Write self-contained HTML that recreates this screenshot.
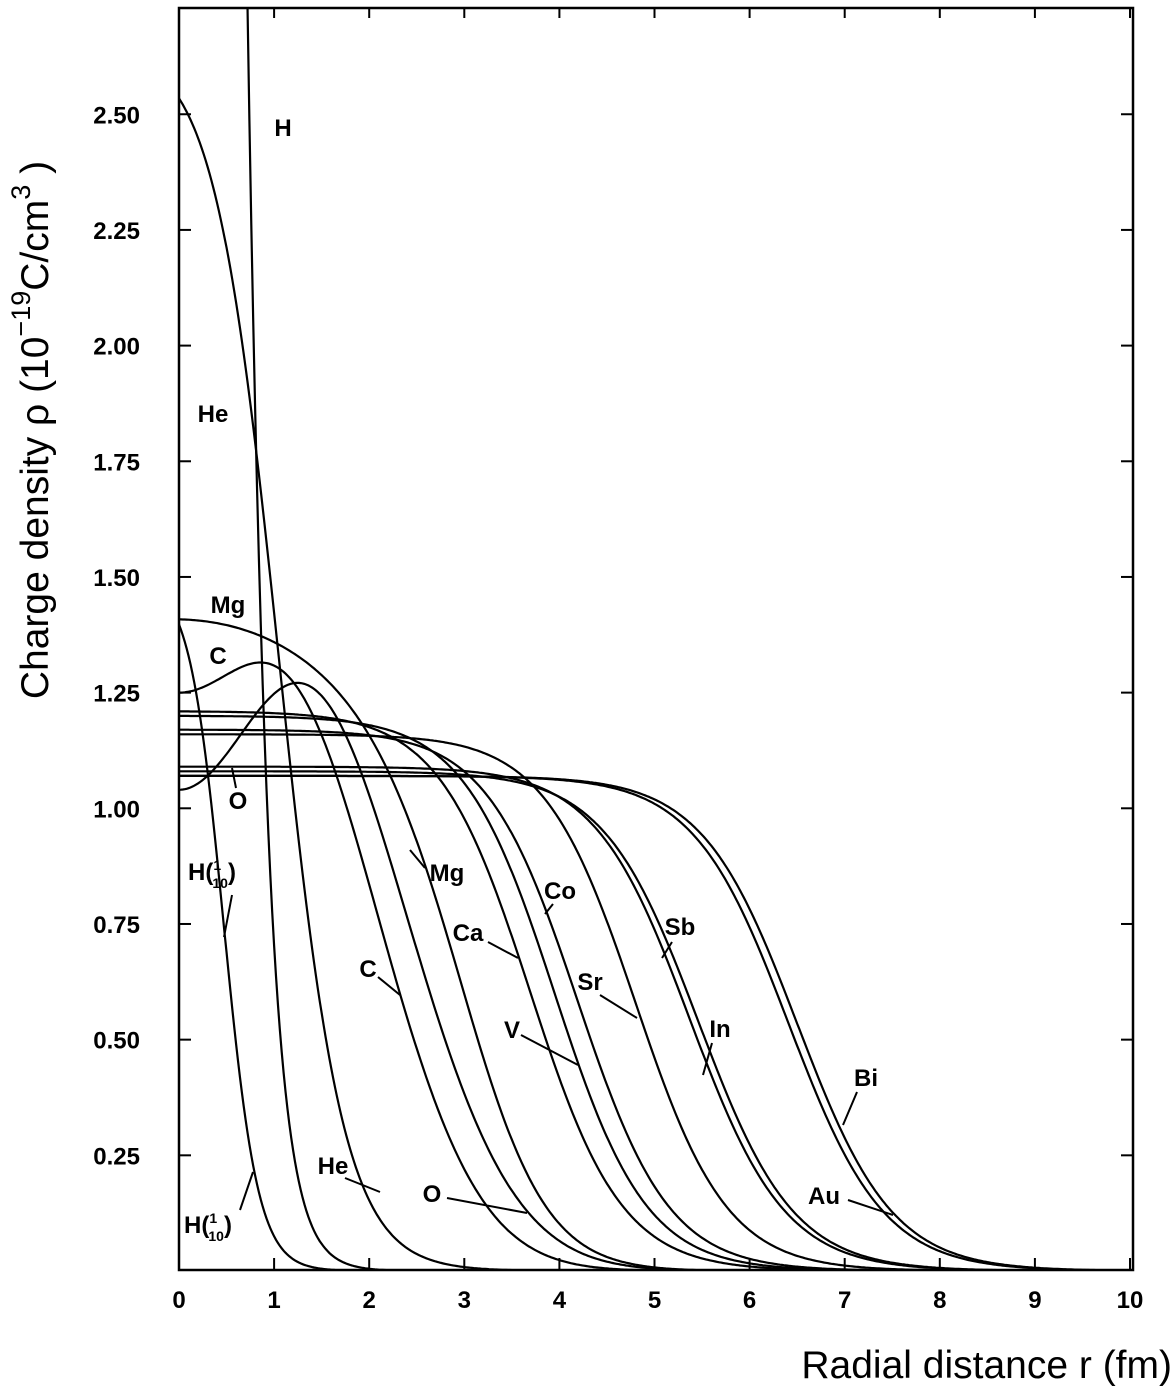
<!DOCTYPE html>
<html><head><meta charset="utf-8">
<style>
html,body{margin:0;padding:0;background:#fff;}
svg{display:block;font-family:"Liberation Sans",sans-serif;}
.tk{font-weight:bold;font-size:24px;}
.lb{font-weight:bold;font-size:24px;}
</style></head>
<body>
<svg id="chart" width="1175" height="1394" viewBox="0 0 1175 1394">
<defs><clipPath id="pc"><rect x="179" y="8" width="954" height="1262"/></clipPath></defs>
<rect x="179" y="8" width="954" height="1262" fill="none" stroke="#000" stroke-width="2.5"/>
<g id="ticks"></g>
<g id="curves" clip-path="url(#pc)" fill="none" stroke="#000" stroke-width="2.2"></g>
<g id="labels"></g>
<text x="48" y="430" font-size="39" transform="rotate(-90 48 430)" text-anchor="middle">Charge density ρ (10<tspan dy="-18" font-size="27">−19</tspan><tspan dy="18">C/cm</tspan><tspan dy="-18" font-size="27">3</tspan><tspan dy="18"> )</tspan></text>
<text x="1172" y="1378" font-size="39" text-anchor="end">Radial distance r (fm)</text>
</svg>
<script>
const xTicks=[0,1,2,3,4,5,6,7,8,9,10];
const yTicks=[0.25,0.50,0.75,1.00,1.25,1.50,1.75,2.00,2.25,2.50];
const yTickLabels=["0.25","0.50","0.75","1.00","1.25","1.50","1.75","2.00","2.25","2.50"];
const names=["H(1/10)","H","He","C","O","Mg","Ca","V","Co","Sr","Sb","In","Au","Bi"];
const models=["fermi","fermi","fermi","ho","ho","fermiw","fermi","fermi","fermi","fermi","fermi","fermi","fermi","fermi"];
const rho0=[1.5,50,2.65,1.25,1.04,1.41,1.21,1.20,1.17,1.16,1.09,1.08,1.07,1.07];
const radius=[0.47,0.15,1.05,1.6,1.75,3.1,3.69,3.95,4.19,4.80,5.37,5.46,6.41,6.50];
const diffuse=[0.18,0.2,0.34,1.40,2.03,0.46,0.48,0.48,0.48,0.48,0.5,0.5,0.5,0.5];
const NS="http://www.w3.org/2000/svg";
const X=r=>179+r*95.1, Y=p=>1271-p*462.7;
function rho(i,r){
  const m=models[i],p=rho0[i],c=radius[i],a=diffuse[i];
  if(m==="fermi") return p/(1+Math.exp((r-c)/a));
  if(m==="fermiw") return p*(1-0.25*r*r/(c*c))/(1+Math.exp((r-c)/a));
  const x2=(r/c)*(r/c); return p*(1+a*x2)*Math.exp(-x2);
}
const tg=document.getElementById('ticks');
function mk(t,attrs,parent){const e=document.createElementNS(NS,t);for(const k in attrs)e.setAttribute(k,attrs[k]);parent.appendChild(e);return e;}
xTicks.forEach(v=>{
  const l=mk('line',{x1:X(v),x2:X(v),y1:1270,y2:1258,stroke:'#000','stroke-width':2},tg);
  
  
  const l2=mk('line',{x1:X(v),x2:X(v),y1:8,y2:18,stroke:'#000','stroke-width':2},tg);
  
  
  const t=mk('text',{x:X(v),y:1308,'text-anchor':'middle','class':'tk'},tg);
  t.textContent=String(v);
  
  
});
yTicks.forEach((v,i)=>{
  const l=mk('line',{x1:179,x2:191,y1:Y(v),y2:Y(v),stroke:'#000','stroke-width':2},tg);
  
  
  const l2=mk('line',{x1:1121,x2:1133,y1:Y(v),y2:Y(v),stroke:'#000','stroke-width':2},tg);
  
  
  const t=mk('text',{x:140,y:Y(v)+9,'text-anchor':'end','class':'tk'},tg);
  t.textContent=yTickLabels[i];
  
  
});
const cg=document.getElementById('curves');
names.forEach((n,i)=>{
  let pts=[];
  for(let r=0;r<=10.001;r+=0.02){const p=rho(i,r);pts.push(X(r).toFixed(1)+","+Y(Math.min(p,3)).toFixed(1));if(p<0.002)break;}
  const pl=mk('polyline',{points:pts.join(' ')},cg);
  
  
});
const lg=document.getElementById('labels');
const labs=[["H",283,136],["He",213,422],["Mg",228,613],["C",218,664],["O",238,809],["Mg",447,881],["Co",560,899],["Ca",468,941],["C",368,977],["Sb",680,935],["Sr",590,990],["V",512,1038],["In",720,1037],["Bi",866,1086],["He",333,1174],["O",432,1202],["Au",824,1204]];
labs.forEach(a=>{
  const t=mk('text',{x:a[1],y:a[2],'text-anchor':'middle','class':'lb'},lg);
  t.textContent=a[0];
  
  
});
[[212,880],[208,1233]].forEach(p=>{
  const t=mk('text',{x:p[0],y:p[1],'text-anchor':'middle','class':'lb'},lg);
  t.innerHTML='H(<tspan font-size="14" dy="-10">1</tspan><tspan font-size="14" dx="-8" dy="18">10</tspan><tspan dy="-8">)</tspan>';
  
  
});
const leaders=[[232,895,224,937],[240,1210,253,1172],[345,1178,380,1192],[447,1198,527,1213],[848,1200,893,1215],[857,1092,843,1125],[712,1043,703,1075],[521,1035,578,1065],[600,995,637,1018],[488,942,518,958],[553,904,545,914],[378,977,400,995],[425,868,410,850],[672,942,662,958],[236,788,232,768]];
leaders.forEach(l=>{
  const e=mk('line',{x1:l[0],y1:l[1],x2:l[2],y2:l[3],stroke:'#000','stroke-width':2},lg);
  
  
});
</script>
</body></html>
